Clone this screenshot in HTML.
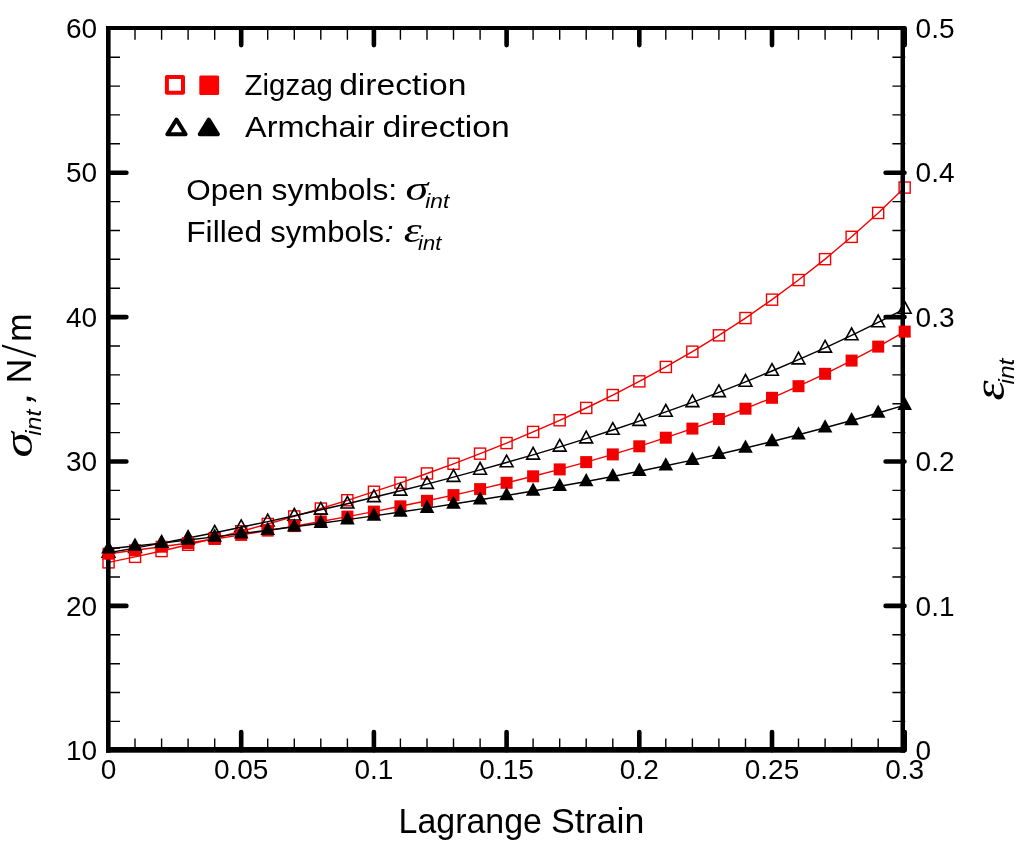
<!DOCTYPE html>
<html lang="en"><head><meta charset="utf-8"><title>Lagrange Strain chart</title>
<style>html,body{margin:0;padding:0;background:#fff}svg{display:block}.t{font-family:"Liberation Sans",sans-serif;fill:#000}.ti{font-family:"Liberation Sans",sans-serif;font-style:italic;fill:#000}.g{font-family:"Liberation Serif",serif;font-style:italic;fill:#000}</style></head><body>
<svg width="1024" height="849" viewBox="0 0 1024 849">
<rect width="1024" height="849" fill="#fff"/>
<g>
<polyline fill="none" stroke="#f20000" stroke-width="1.40" points="108.5,562.4 135.0,556.9 161.6,551.0 188.1,544.8 214.7,538.2 241.2,531.2 267.7,524.0 294.3,516.4 320.8,508.5 347.4,500.3 373.9,491.7 400.4,482.8 427.0,473.5 453.5,463.8 480.1,453.7 506.6,443.1 533.1,431.9 559.7,420.3 586.2,408.0 612.8,395.1 639.3,381.4 665.8,366.9 692.4,351.6 718.9,335.3 745.5,318.1 772.0,299.6 798.5,280.0 825.1,259.1 851.6,236.8 878.2,213.0 904.7,187.5"/>
<rect x="103.0" y="556.8" width="11.1" height="11.1" fill="none" stroke="#f20000" stroke-width="1.4"/>
<rect x="129.5" y="551.3" width="11.1" height="11.1" fill="none" stroke="#f20000" stroke-width="1.4"/>
<rect x="156.0" y="545.5" width="11.1" height="11.1" fill="none" stroke="#f20000" stroke-width="1.4"/>
<rect x="182.6" y="539.2" width="11.1" height="11.1" fill="none" stroke="#f20000" stroke-width="1.4"/>
<rect x="209.1" y="532.6" width="11.1" height="11.1" fill="none" stroke="#f20000" stroke-width="1.4"/>
<rect x="235.7" y="525.7" width="11.1" height="11.1" fill="none" stroke="#f20000" stroke-width="1.4"/>
<rect x="262.2" y="518.4" width="11.1" height="11.1" fill="none" stroke="#f20000" stroke-width="1.4"/>
<rect x="288.7" y="510.9" width="11.1" height="11.1" fill="none" stroke="#f20000" stroke-width="1.4"/>
<rect x="315.3" y="503.0" width="11.1" height="11.1" fill="none" stroke="#f20000" stroke-width="1.4"/>
<rect x="341.8" y="494.7" width="11.1" height="11.1" fill="none" stroke="#f20000" stroke-width="1.4"/>
<rect x="368.4" y="486.2" width="11.1" height="11.1" fill="none" stroke="#f20000" stroke-width="1.4"/>
<rect x="394.9" y="477.2" width="11.1" height="11.1" fill="none" stroke="#f20000" stroke-width="1.4"/>
<rect x="421.4" y="467.9" width="11.1" height="11.1" fill="none" stroke="#f20000" stroke-width="1.4"/>
<rect x="448.0" y="458.2" width="11.1" height="11.1" fill="none" stroke="#f20000" stroke-width="1.4"/>
<rect x="474.5" y="448.1" width="11.1" height="11.1" fill="none" stroke="#f20000" stroke-width="1.4"/>
<rect x="501.0" y="437.5" width="11.1" height="11.1" fill="none" stroke="#f20000" stroke-width="1.4"/>
<rect x="527.6" y="426.4" width="11.1" height="11.1" fill="none" stroke="#f20000" stroke-width="1.4"/>
<rect x="554.1" y="414.7" width="11.1" height="11.1" fill="none" stroke="#f20000" stroke-width="1.4"/>
<rect x="580.7" y="402.4" width="11.1" height="11.1" fill="none" stroke="#f20000" stroke-width="1.4"/>
<rect x="607.2" y="389.5" width="11.1" height="11.1" fill="none" stroke="#f20000" stroke-width="1.4"/>
<rect x="633.8" y="375.8" width="11.1" height="11.1" fill="none" stroke="#f20000" stroke-width="1.4"/>
<rect x="660.3" y="361.4" width="11.1" height="11.1" fill="none" stroke="#f20000" stroke-width="1.4"/>
<rect x="686.8" y="346.1" width="11.1" height="11.1" fill="none" stroke="#f20000" stroke-width="1.4"/>
<rect x="713.4" y="329.8" width="11.1" height="11.1" fill="none" stroke="#f20000" stroke-width="1.4"/>
<rect x="739.9" y="312.5" width="11.1" height="11.1" fill="none" stroke="#f20000" stroke-width="1.4"/>
<rect x="766.5" y="294.1" width="11.1" height="11.1" fill="none" stroke="#f20000" stroke-width="1.4"/>
<rect x="793.0" y="274.5" width="11.1" height="11.1" fill="none" stroke="#f20000" stroke-width="1.4"/>
<rect x="819.5" y="253.6" width="11.1" height="11.1" fill="none" stroke="#f20000" stroke-width="1.4"/>
<rect x="846.1" y="231.3" width="11.1" height="11.1" fill="none" stroke="#f20000" stroke-width="1.4"/>
<rect x="872.6" y="207.4" width="11.1" height="11.1" fill="none" stroke="#f20000" stroke-width="1.4"/>
<rect x="899.1" y="182.0" width="11.1" height="11.1" fill="none" stroke="#f20000" stroke-width="1.4"/>
<polyline fill="none" stroke="#000" stroke-width="1.40" points="108.5,552.8 135.0,548.1 161.6,543.1 188.1,538.0 214.7,532.7 241.2,527.2 267.7,521.6 294.3,515.8 320.8,509.8 347.4,503.7 373.9,497.3 400.4,490.8 427.0,484.1 453.5,477.1 480.1,469.9 506.6,462.5 533.1,454.8 559.7,446.8 586.2,438.6 612.8,430.0 639.3,421.1 665.8,411.9 692.4,402.3 718.9,392.3 745.5,381.9 772.0,371.0 798.5,359.6 825.1,347.8 851.6,335.4 878.2,322.4 904.7,308.9"/>
<path d="M108.5 545.4L114.9 557.1L102.1 557.1Z" fill="none" stroke="#000" stroke-width="1.6"/>
<path d="M135.0 540.7L141.4 552.4L128.6 552.4Z" fill="none" stroke="#000" stroke-width="1.6"/>
<path d="M161.6 535.7L168.0 547.4L155.2 547.4Z" fill="none" stroke="#000" stroke-width="1.6"/>
<path d="M188.1 530.6L194.5 542.3L181.7 542.3Z" fill="none" stroke="#000" stroke-width="1.6"/>
<path d="M214.7 525.3L221.1 537.0L208.3 537.0Z" fill="none" stroke="#000" stroke-width="1.6"/>
<path d="M241.2 519.8L247.6 531.5L234.8 531.5Z" fill="none" stroke="#000" stroke-width="1.6"/>
<path d="M267.7 514.2L274.1 525.9L261.3 525.9Z" fill="none" stroke="#000" stroke-width="1.6"/>
<path d="M294.3 508.4L300.7 520.1L287.9 520.1Z" fill="none" stroke="#000" stroke-width="1.6"/>
<path d="M320.8 502.4L327.2 514.1L314.4 514.1Z" fill="none" stroke="#000" stroke-width="1.6"/>
<path d="M347.4 496.3L353.8 508.0L341.0 508.0Z" fill="none" stroke="#000" stroke-width="1.6"/>
<path d="M373.9 489.9L380.3 501.6L367.5 501.6Z" fill="none" stroke="#000" stroke-width="1.6"/>
<path d="M400.4 483.4L406.8 495.1L394.0 495.1Z" fill="none" stroke="#000" stroke-width="1.6"/>
<path d="M427.0 476.7L433.4 488.4L420.6 488.4Z" fill="none" stroke="#000" stroke-width="1.6"/>
<path d="M453.5 469.7L459.9 481.4L447.1 481.4Z" fill="none" stroke="#000" stroke-width="1.6"/>
<path d="M480.1 462.5L486.5 474.2L473.7 474.2Z" fill="none" stroke="#000" stroke-width="1.6"/>
<path d="M506.6 455.1L513.0 466.8L500.2 466.8Z" fill="none" stroke="#000" stroke-width="1.6"/>
<path d="M533.1 447.4L539.5 459.1L526.7 459.1Z" fill="none" stroke="#000" stroke-width="1.6"/>
<path d="M559.7 439.4L566.1 451.1L553.3 451.1Z" fill="none" stroke="#000" stroke-width="1.6"/>
<path d="M586.2 431.2L592.6 442.9L579.8 442.9Z" fill="none" stroke="#000" stroke-width="1.6"/>
<path d="M612.8 422.6L619.2 434.3L606.4 434.3Z" fill="none" stroke="#000" stroke-width="1.6"/>
<path d="M639.3 413.7L645.7 425.4L632.9 425.4Z" fill="none" stroke="#000" stroke-width="1.6"/>
<path d="M665.8 404.5L672.2 416.2L659.4 416.2Z" fill="none" stroke="#000" stroke-width="1.6"/>
<path d="M692.4 394.9L698.8 406.6L686.0 406.6Z" fill="none" stroke="#000" stroke-width="1.6"/>
<path d="M718.9 384.9L725.3 396.6L712.5 396.6Z" fill="none" stroke="#000" stroke-width="1.6"/>
<path d="M745.5 374.5L751.9 386.2L739.1 386.2Z" fill="none" stroke="#000" stroke-width="1.6"/>
<path d="M772.0 363.6L778.4 375.3L765.6 375.3Z" fill="none" stroke="#000" stroke-width="1.6"/>
<path d="M798.5 352.2L804.9 363.9L792.1 363.9Z" fill="none" stroke="#000" stroke-width="1.6"/>
<path d="M825.1 340.4L831.5 352.1L818.7 352.1Z" fill="none" stroke="#000" stroke-width="1.6"/>
<path d="M851.6 328.0L858.0 339.7L845.2 339.7Z" fill="none" stroke="#000" stroke-width="1.6"/>
<path d="M878.2 315.0L884.6 326.7L871.8 326.7Z" fill="none" stroke="#000" stroke-width="1.6"/>
<path d="M904.7 301.5L911.1 313.2L898.3 313.2Z" fill="none" stroke="#000" stroke-width="1.6"/>
</g>
<g fill="#000">
<rect x="106.0" y="26.0" width="4.6" height="726.7"/>
<rect x="900.5" y="26.0" width="4.5" height="726.7"/>
<rect x="106.0" y="26.0" width="799.0" height="4.0"/>
<rect x="106.0" y="747.0" width="799.0" height="5.7"/>
</g>
<path d="M241.2 750.3V732.1M241.2 28.3V45.1M373.9 750.3V732.1M373.9 28.3V45.1M506.6 750.3V732.1M506.6 28.3V45.1M639.3 750.3V732.1M639.3 28.3V45.1M772.0 750.3V732.1M772.0 28.3V45.1M904.7 750.3V732.1M904.7 28.3V45.1M108.4 605.9H126.4M904.5 605.9H885.6M108.4 461.5H126.4M904.5 461.5H885.6M108.4 317.1H126.4M904.5 317.1H885.6M108.4 172.7H126.4M904.5 172.7H885.6" stroke="#000" stroke-width="4.6" stroke-linecap="round" fill="none"/>
<path d="M135.0 750.3V738.4M135.0 28.3V39.7M161.6 750.3V738.4M161.6 28.3V39.7M188.1 750.3V738.4M188.1 28.3V39.7M214.7 750.3V738.4M214.7 28.3V39.7M267.7 750.3V738.4M267.7 28.3V39.7M294.3 750.3V738.4M294.3 28.3V39.7M320.8 750.3V738.4M320.8 28.3V39.7M347.4 750.3V738.4M347.4 28.3V39.7M400.4 750.3V738.4M400.4 28.3V39.7M427.0 750.3V738.4M427.0 28.3V39.7M453.5 750.3V738.4M453.5 28.3V39.7M480.1 750.3V738.4M480.1 28.3V39.7M533.1 750.3V738.4M533.1 28.3V39.7M559.7 750.3V738.4M559.7 28.3V39.7M586.2 750.3V738.4M586.2 28.3V39.7M612.8 750.3V738.4M612.8 28.3V39.7M665.8 750.3V738.4M665.8 28.3V39.7M692.4 750.3V738.4M692.4 28.3V39.7M718.9 750.3V738.4M718.9 28.3V39.7M745.5 750.3V738.4M745.5 28.3V39.7M798.5 750.3V738.4M798.5 28.3V39.7M825.1 750.3V738.4M825.1 28.3V39.7M851.6 750.3V738.4M851.6 28.3V39.7M878.2 750.3V738.4M878.2 28.3V39.7M108.4 721.4H120.0M905.3 721.4H892.4M108.4 692.5H120.0M905.3 692.5H892.4M108.4 663.7H120.0M905.3 663.7H892.4M108.4 634.8H120.0M905.3 634.8H892.4M108.4 577.0H120.0M905.3 577.0H892.4M108.4 548.1H120.0M905.3 548.1H892.4M108.4 519.3H120.0M905.3 519.3H892.4M108.4 490.4H120.0M905.3 490.4H892.4M108.4 432.6H120.0M905.3 432.6H892.4M108.4 403.7H120.0M905.3 403.7H892.4M108.4 374.9H120.0M905.3 374.9H892.4M108.4 346.0H120.0M905.3 346.0H892.4M108.4 288.2H120.0M905.3 288.2H892.4M108.4 259.3H120.0M905.3 259.3H892.4M108.4 230.5H120.0M905.3 230.5H892.4M108.4 201.6H120.0M905.3 201.6H892.4M108.4 143.8H120.0M905.3 143.8H892.4M108.4 114.9H120.0M905.3 114.9H892.4M108.4 86.1H120.0M905.3 86.1H892.4M108.4 57.2H120.0M905.3 57.2H892.4" stroke="#000" stroke-width="1.4" fill="none"/>
<g>
<polyline fill="none" stroke="#f20000" stroke-width="1.40" points="108.5,553.7 135.0,550.3 161.6,546.7 188.1,543.0 214.7,539.0 241.2,534.9 267.7,530.6 294.3,526.1 320.8,521.5 347.4,516.6 373.9,511.6 400.4,506.3 427.0,500.8 453.5,495.1 480.1,489.1 506.6,482.8 533.1,476.3 559.7,469.4 586.2,462.1 612.8,454.4 639.3,446.3 665.8,437.7 692.4,428.6 718.9,419.0 745.5,408.7 772.0,397.8 798.5,386.2 825.1,373.8 851.6,360.6 878.2,346.6 904.7,331.6"/>
<rect x="102.5" y="547.7" width="12.0" height="12.0" fill="#f20000"/>
<rect x="129.0" y="544.3" width="12.0" height="12.0" fill="#f20000"/>
<rect x="155.6" y="540.7" width="12.0" height="12.0" fill="#f20000"/>
<rect x="182.1" y="537.0" width="12.0" height="12.0" fill="#f20000"/>
<rect x="208.7" y="533.0" width="12.0" height="12.0" fill="#f20000"/>
<rect x="235.2" y="528.9" width="12.0" height="12.0" fill="#f20000"/>
<rect x="261.7" y="524.6" width="12.0" height="12.0" fill="#f20000"/>
<rect x="288.3" y="520.1" width="12.0" height="12.0" fill="#f20000"/>
<rect x="314.8" y="515.5" width="12.0" height="12.0" fill="#f20000"/>
<rect x="341.4" y="510.6" width="12.0" height="12.0" fill="#f20000"/>
<rect x="367.9" y="505.6" width="12.0" height="12.0" fill="#f20000"/>
<rect x="394.4" y="500.3" width="12.0" height="12.0" fill="#f20000"/>
<rect x="421.0" y="494.8" width="12.0" height="12.0" fill="#f20000"/>
<rect x="447.5" y="489.1" width="12.0" height="12.0" fill="#f20000"/>
<rect x="474.1" y="483.1" width="12.0" height="12.0" fill="#f20000"/>
<rect x="500.6" y="476.8" width="12.0" height="12.0" fill="#f20000"/>
<rect x="527.1" y="470.3" width="12.0" height="12.0" fill="#f20000"/>
<rect x="553.7" y="463.4" width="12.0" height="12.0" fill="#f20000"/>
<rect x="580.2" y="456.1" width="12.0" height="12.0" fill="#f20000"/>
<rect x="606.8" y="448.4" width="12.0" height="12.0" fill="#f20000"/>
<rect x="633.3" y="440.3" width="12.0" height="12.0" fill="#f20000"/>
<rect x="659.8" y="431.7" width="12.0" height="12.0" fill="#f20000"/>
<rect x="686.4" y="422.6" width="12.0" height="12.0" fill="#f20000"/>
<rect x="712.9" y="413.0" width="12.0" height="12.0" fill="#f20000"/>
<rect x="739.5" y="402.7" width="12.0" height="12.0" fill="#f20000"/>
<rect x="766.0" y="391.8" width="12.0" height="12.0" fill="#f20000"/>
<rect x="792.5" y="380.2" width="12.0" height="12.0" fill="#f20000"/>
<rect x="819.1" y="367.8" width="12.0" height="12.0" fill="#f20000"/>
<rect x="845.6" y="354.6" width="12.0" height="12.0" fill="#f20000"/>
<rect x="872.2" y="340.6" width="12.0" height="12.0" fill="#f20000"/>
<rect x="898.7" y="325.6" width="12.0" height="12.0" fill="#f20000"/>
<polyline fill="none" stroke="#000" stroke-width="1.40" points="108.5,548.8 135.0,546.0 161.6,543.1 188.1,540.0 214.7,536.9 241.2,533.6 267.7,530.2 294.3,526.8 320.8,523.2 347.4,519.6 373.9,515.9 400.4,512.0 427.0,508.1 453.5,504.0 480.1,499.8 506.6,495.5 533.1,491.0 559.7,486.3 586.2,481.5 612.8,476.5 639.3,471.2 665.8,465.8 692.4,460.1 718.9,454.2 745.5,448.0 772.0,441.5 798.5,434.8 825.1,427.8 851.6,420.5 878.2,413.0 904.7,405.1"/>
<path d="M108.5 540.2L115.8 553.6L101.2 553.6Z" fill="#000"/>
<path d="M135.0 537.4L142.3 550.8L127.7 550.8Z" fill="#000"/>
<path d="M161.6 534.5L168.9 547.9L154.3 547.9Z" fill="#000"/>
<path d="M188.1 531.4L195.4 544.8L180.8 544.8Z" fill="#000"/>
<path d="M214.7 528.3L222.0 541.7L207.4 541.7Z" fill="#000"/>
<path d="M241.2 525.0L248.5 538.4L233.9 538.4Z" fill="#000"/>
<path d="M267.7 521.6L275.0 535.0L260.4 535.0Z" fill="#000"/>
<path d="M294.3 518.2L301.6 531.6L287.0 531.6Z" fill="#000"/>
<path d="M320.8 514.6L328.1 528.0L313.5 528.0Z" fill="#000"/>
<path d="M347.4 511.0L354.7 524.4L340.1 524.4Z" fill="#000"/>
<path d="M373.9 507.3L381.2 520.7L366.6 520.7Z" fill="#000"/>
<path d="M400.4 503.4L407.7 516.8L393.1 516.8Z" fill="#000"/>
<path d="M427.0 499.5L434.3 512.9L419.7 512.9Z" fill="#000"/>
<path d="M453.5 495.4L460.8 508.8L446.2 508.8Z" fill="#000"/>
<path d="M480.1 491.2L487.4 504.6L472.8 504.6Z" fill="#000"/>
<path d="M506.6 486.9L513.9 500.3L499.3 500.3Z" fill="#000"/>
<path d="M533.1 482.4L540.4 495.8L525.8 495.8Z" fill="#000"/>
<path d="M559.7 477.7L567.0 491.1L552.4 491.1Z" fill="#000"/>
<path d="M586.2 472.9L593.5 486.3L578.9 486.3Z" fill="#000"/>
<path d="M612.8 467.9L620.1 481.3L605.5 481.3Z" fill="#000"/>
<path d="M639.3 462.6L646.6 476.0L632.0 476.0Z" fill="#000"/>
<path d="M665.8 457.2L673.1 470.6L658.5 470.6Z" fill="#000"/>
<path d="M692.4 451.5L699.7 464.9L685.1 464.9Z" fill="#000"/>
<path d="M718.9 445.6L726.2 459.0L711.6 459.0Z" fill="#000"/>
<path d="M745.5 439.4L752.8 452.8L738.2 452.8Z" fill="#000"/>
<path d="M772.0 432.9L779.3 446.3L764.7 446.3Z" fill="#000"/>
<path d="M798.5 426.2L805.8 439.6L791.2 439.6Z" fill="#000"/>
<path d="M825.1 419.2L832.4 432.6L817.8 432.6Z" fill="#000"/>
<path d="M851.6 411.9L858.9 425.3L844.3 425.3Z" fill="#000"/>
<path d="M878.2 404.4L885.5 417.8L870.9 417.8Z" fill="#000"/>
<path d="M904.7 396.5L912.0 409.9L897.4 409.9Z" fill="#000"/>
</g>
<text class="t" x="97.1" y="759.9" font-size="28" text-anchor="end">10</text>
<text class="t" x="97.1" y="615.5" font-size="28" text-anchor="end">20</text>
<text class="t" x="97.1" y="471.1" font-size="28" text-anchor="end">30</text>
<text class="t" x="97.1" y="326.7" font-size="28" text-anchor="end">40</text>
<text class="t" x="97.1" y="182.3" font-size="28" text-anchor="end">50</text>
<text class="t" x="97.1" y="37.9" font-size="28" text-anchor="end">60</text>
<text class="t" x="915.6" y="759.9" font-size="28">0</text>
<text class="t" x="915.6" y="615.5" font-size="28">0.1</text>
<text class="t" x="915.6" y="471.1" font-size="28">0.2</text>
<text class="t" x="915.6" y="326.7" font-size="28">0.3</text>
<text class="t" x="915.6" y="182.3" font-size="28">0.4</text>
<text class="t" x="915.6" y="37.9" font-size="28">0.5</text>
<text class="t" x="108.5" y="778.8" font-size="28" text-anchor="middle">0</text>
<text class="t" x="241.2" y="778.8" font-size="28" text-anchor="middle">0.05</text>
<text class="t" x="373.9" y="778.8" font-size="28" text-anchor="middle">0.1</text>
<text class="t" x="506.6" y="778.8" font-size="28" text-anchor="middle">0.15</text>
<text class="t" x="639.3" y="778.8" font-size="28" text-anchor="middle">0.2</text>
<text class="t" x="772.0" y="778.8" font-size="28" text-anchor="middle">0.25</text>
<text class="t" x="904.7" y="778.8" font-size="28" text-anchor="middle">0.3</text>
<rect x="166.9" y="76.9" width="16.1" height="15.8" fill="none" stroke="#ff0000" stroke-width="4" stroke-linejoin="round"/>
<rect x="200.8" y="77.1" width="16.8" height="16.4" fill="#ff0000" stroke="#ff0000" stroke-width="3" stroke-linejoin="round"/>
<path d="M176.5 119.6L185.6 134.2L167.3 134.2Z" fill="none" stroke="#000" stroke-width="4" stroke-linejoin="round"/>
<path d="M208.8 119.6L217.9 134.2L199.7 134.2Z" fill="#000" stroke="#000" stroke-width="4" stroke-linejoin="round"/>
<text font-family="Liberation Sans,sans-serif" font-style="normal" font-size="30.20" transform="translate(244.62,95.20) scale(0.9734,1)">Zigzag</text>
<text font-family="Liberation Sans,sans-serif" font-style="normal" font-size="30.20" transform="translate(339.15,95.20) scale(1.1146,1)">direction</text>
<text font-family="Liberation Sans,sans-serif" font-style="normal" font-size="30.20" transform="translate(245.09,136.80) scale(1.0712,1)">Armchair</text>
<text font-family="Liberation Sans,sans-serif" font-style="normal" font-size="30.20" transform="translate(382.55,136.80) scale(1.1146,1)">direction</text>
<text font-family="Liberation Sans,sans-serif" font-style="normal" font-size="30.20" transform="translate(186.18,199.50) scale(1.0423,1)">Open</text>
<text font-family="Liberation Sans,sans-serif" font-style="normal" font-size="30.20" transform="translate(271.54,199.50) scale(1.0553,1)">symbols:</text>
<text font-family="Liberation Sans,sans-serif" font-style="normal" font-size="30.20" transform="translate(186.26,241.50) scale(1.0502,1)">Filled</text>
<text font-family="Liberation Sans,sans-serif" font-style="normal" font-size="30.20" transform="translate(270.32,241.50) scale(1.0279,1)">symbols</text>
<text font-family="Liberation Sans,sans-serif" font-style="italic" font-size="30.20" transform="translate(384.83,241.50) scale(1.0528,1)">:</text>
<text font-family="Liberation Serif,serif" font-style="italic" font-size="34.29" transform="translate(405.62,200.16) scale(1.3434,1)">σ</text>
<text font-family="Liberation Sans,sans-serif" font-style="italic" font-size="20.00" transform="translate(425.26,207.90) scale(1.1349,1)">int</text>
<text font-family="Liberation Serif,serif" font-style="italic" font-size="36.46" transform="translate(403.70,241.54) scale(1.2380,1)">ε</text>
<text font-family="Liberation Sans,sans-serif" font-style="italic" font-size="20.00" transform="translate(418.07,249.80) scale(1.0977,1)">int</text>
<text font-family="Liberation Sans,sans-serif" font-style="normal" font-size="34.80" transform="translate(398.54,832.60) scale(0.9746,1)">Lagrange</text>
<text font-family="Liberation Sans,sans-serif" font-style="normal" font-size="34.80" transform="translate(550.89,832.60) scale(1.0276,1)">Strain</text>
<g transform="translate(0.00,849.00) rotate(-90)"><text font-family="Liberation Serif,serif" font-style="italic" font-size="40.38" transform="translate(391.46,32.00) scale(1.2707,1)">σ</text><text font-family="Liberation Sans,sans-serif" font-style="italic" font-size="22.00" transform="translate(413.23,41.20) scale(1.1205,1)">int</text><text font-family="Liberation Sans,sans-serif" font-style="italic" font-size="34.00" transform="translate(445.76,30.79) scale(1.2395,1.2020)">,</text><text font-family="Liberation Sans,sans-serif" font-size="35.6" transform="translate(465.66,31.20) scale(0.950,1)"><tspan x="0">N</tspan><tspan font-family="Liberation Serif,serif" font-size="49.6" x="27.29" dy="4.2">/</tspan><tspan x="43.71" dy="-4.2">m</tspan></text></g>
<g transform="translate(0.00,849.00) rotate(-90)"><text font-family="Liberation Serif,serif" font-style="italic" font-size="44.17" transform="translate(448.48,1004.16) scale(1.1566,1)">ε</text><text font-family="Liberation Sans,sans-serif" font-style="italic" font-size="22.00" transform="translate(464.43,1014.00) scale(1.1205,1)">int</text></g>
</svg></body></html>
